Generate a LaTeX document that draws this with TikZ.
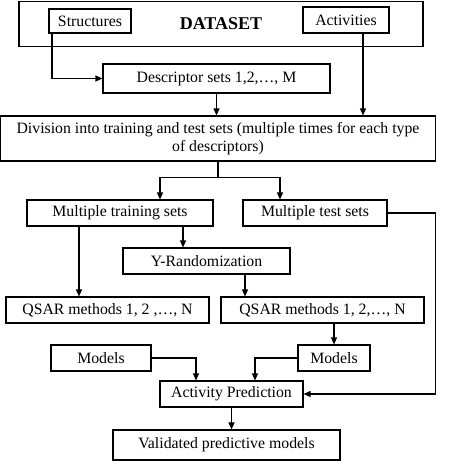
\documentclass[tikz,border=0pt]{standalone}
\usepackage{fontspec}
\setmainfont{Liberation Serif}
\usetikzlibrary{arrows.meta}

\tikzset{
  box/.style={draw, line width=1.1pt, fill=white, inner sep=0pt, font=\fontsize{15.8}{18}\selectfont},
  arr/.style={line width=1.1pt, -{Triangle[length=7pt,width=6pt]}}
}

\begin{document}
\begin{tikzpicture}[x=1pt, y=-1pt]
\useasboundingbox (0,0) rectangle (474,474);
% boxes
\node[box, minimum width=404pt, minimum height=45pt, font=\fontsize{18}{20}\selectfont\bfseries] (dataset) at (221,24) {DATASET};
\node[box, minimum width=82pt, minimum height=24pt] (structures) at (90,21) {Structures};
\node[box, minimum width=86pt, minimum height=26pt] (activities) at (346,20) {Activities};
\node[box, minimum width=227pt, minimum height=29pt] (descriptor) at (216.5,78.5) {Descriptor sets 1,2,\ldots, M};
\node[box, minimum width=435pt, minimum height=45pt, align=center] (division) at (218,138.5) {Division into training and test sets (multiple times for each type\\of descriptors)};
\node[box, minimum width=186pt, minimum height=26pt] (training) at (120,213) {Multiple training sets};
\node[box, minimum width=144pt, minimum height=26pt] (test) at (315,213) {Multiple test sets};
\node[box, minimum width=167pt, minimum height=26pt] (yrand) at (206.5,261) {Y-Randomization};
\node[box, minimum width=203pt, minimum height=26pt] (qsar1) at (107.5,310) {QSAR methods 1, 2 ,\ldots, N};
\node[box, minimum width=203pt, minimum height=26pt] (qsar2) at (322.5,310) {QSAR methods 1, 2,\ldots, N};
\node[box, minimum width=100pt, minimum height=26pt] (models1) at (101,358) {Models};
\node[box, minimum width=72pt, minimum height=26pt] (models2) at (334,358) {Models};
\node[box, minimum width=143pt, minimum height=26pt] (predict) at (231.5,394) {Activity Prediction};
\node[box, minimum width=227pt, minimum height=30pt] (valid) at (226.5,445) {Validated predictive models};
% connectors
\draw[arr] ([xshift=-38pt]structures.south) |- (descriptor.west);
\draw[arr] ([xshift=17pt]activities.south) -- ([xshift=17pt]activities.south |- division.north);
\draw[arr] (descriptor.south) -- (descriptor.south |- division.north);
\draw[line width=1.1pt] (division.south) -- ++(0,16) coordinate (split);
\draw[arr] (split) -| ([xshift=40pt]training.north);
\draw[arr] (split) -| ([xshift=-35pt]test.north);
\draw[arr] (test.east) -- ++(48,0) |- (predict.east);
\draw[arr] ([xshift=-41pt]training.south) -- ([xshift=-41pt]training.south |- qsar1.north);
\draw[arr] ([xshift=63pt]training.south) -- ([xshift=63pt]training.south |- yrand.north);
\draw[arr] ([xshift=38.5pt]yrand.south) -- ([xshift=38.5pt]yrand.south |- qsar2.north);
\draw[arr] (qsar2.south -| models2.north) -- (models2.north);
\draw[arr] (models1.east) -| ([xshift=-35.5pt]predict.north);
\draw[arr] (models2.west) -| ([xshift=23.5pt]predict.north);
\draw[arr] (predict.south) -- (predict.south |- valid.north);
\end{tikzpicture}
\end{document}
